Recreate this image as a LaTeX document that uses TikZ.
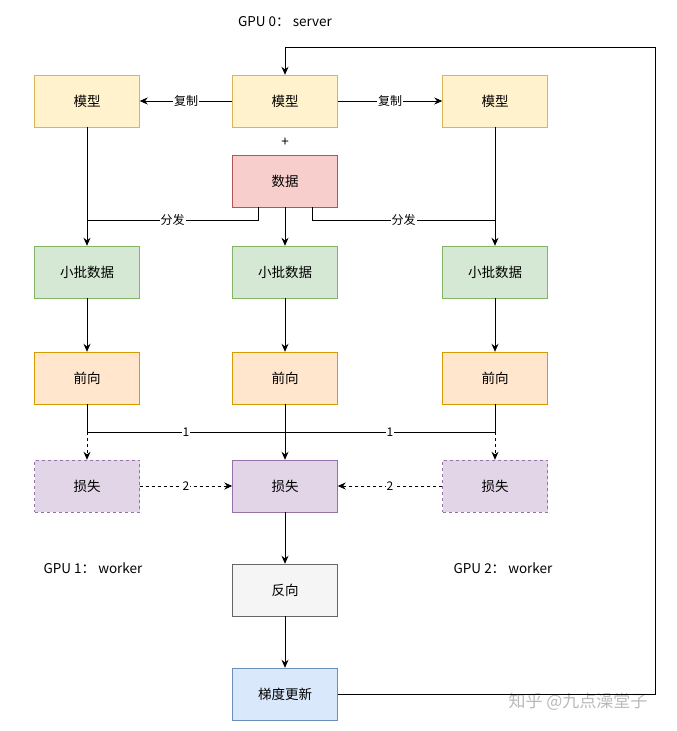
\documentclass[tikz,border=0pt]{standalone}
\usepackage{fontspec}
\setmainfont{Noto Sans CJK SC}
\usetikzlibrary{arrows.meta}
\definecolor{yF}{HTML}{FFF2CC}\definecolor{yD}{HTML}{D6B656}
\definecolor{rF}{HTML}{F8CECC}\definecolor{rD}{HTML}{B85450}
\definecolor{gF}{HTML}{D5E8D4}\definecolor{gD}{HTML}{82B366}
\definecolor{oF}{HTML}{FFE6CC}\definecolor{oD}{HTML}{D79B00}
\definecolor{pF}{HTML}{E1D5E7}\definecolor{pD}{HTML}{9673A6}
\definecolor{kF}{HTML}{F5F5F5}\definecolor{kD}{HTML}{666666}
\definecolor{bF}{HTML}{DAE8FC}\definecolor{bD}{HTML}{6C8EBF}
\begin{document}
\begin{tikzpicture}[x=1pt,y=-1pt,font=\fontsize{13.5}{16}\selectfont,
  box/.style={draw,minimum width=105pt,minimum height=52pt,inner sep=0pt},
  arr/.style={-{Stealth[length=8pt,width=7pt]},line width=0.9pt},
  ln/.style={line width=0.9pt},
  lbl/.style={fill=white,inner sep=1pt,font=\fontsize{12}{14}\selectfont}]
\useasboundingbox (0,0) rectangle (677,731);
\node[box,fill=yF,draw=yD] (mL) at (87,101) {模型};
\node[box,fill=yF,draw=yD] (mC) at (285,101) {模型};
\node[box,fill=yF,draw=yD] (mR) at (495,101) {模型};
\node[box,fill=rF,draw=rD] (d) at (285,181) {数据};
\node (plus) at (285,142) {+};
\node[box,fill=gF,draw=gD] (bL) at (87,272) {小批数据};
\node[box,fill=gF,draw=gD] (bC) at (285,272) {小批数据};
\node[box,fill=gF,draw=gD] (bR) at (495,272) {小批数据};
\node[box,fill=oF,draw=oD] (fL) at (87,378) {前向};
\node[box,fill=oF,draw=oD] (fC) at (285,378) {前向};
\node[box,fill=oF,draw=oD] (fR) at (495,378) {前向};
\node[box,fill=pF,draw=pD,dashed] (lL) at (87,486) {损失};
\node[box,fill=pF,draw=pD] (lC) at (285,486) {损失};
\node[box,fill=pF,draw=pD,dashed] (lR) at (495,486) {损失};
\node[box,fill=kF,draw=kD] (bw) at (285,590) {反向};
\node[box,fill=bF,draw=bD] (g) at (285,694) {梯度更新};
\node (t0) at (285,22) {GPU 0： server};
\node (t1) at (93,568) {GPU 1： worker};
\node (t2) at (503,568) {GPU 2： worker};
\node[text=gray!55] (wm) at (578,702) {\fontsize{17}{19}\selectfont 知乎 @九点澡堂子};
\coordinate (jL) at (87,220); \coordinate (jR) at (495,220);
\coordinate (kL) at (87,432); \coordinate (kR) at (495,432);
\draw[arr] (mC) -- node[lbl]{复制} (mL);
\draw[arr] (mC) -- node[lbl]{复制} (mR);
\draw[arr] (mL) -- (bL);
\draw[arr] (mR) -- (bR);
\draw[ln] ([xshift=-27pt]d.south) |- node[lbl,pos=0.75]{分发} (jL);
\draw[ln] ([xshift=27pt]d.south) |- node[lbl,pos=0.75]{分发} (jR);
\draw[arr] (d) -- (bC);
\draw[arr] (bL) -- (fL); \draw[arr] (bC) -- (fC); \draw[arr] (bR) -- (fR);
\draw[ln] (fL) -- (kL) -- node[lbl]{1} (285,432);
\draw[ln] (fR) -- (kR) -- node[lbl]{1} (285,432);
\draw[arr,dashed] (kL) -- (lL);
\draw[arr,dashed] (kR) -- (lR);
\draw[arr] (fC) -- (lC);
\draw[arr,dashed] (lL) -- node[lbl]{2} (lC);
\draw[arr,dashed] (lR) -- node[lbl]{2} (lC);
\draw[arr] (lC) -- (bw);
\draw[arr] (bw) -- (g);
\draw[arr] (g.east) -- (655,694) -- (655,47) -- (285,47) -- (mC.north);
\end{tikzpicture}
\end{document}
